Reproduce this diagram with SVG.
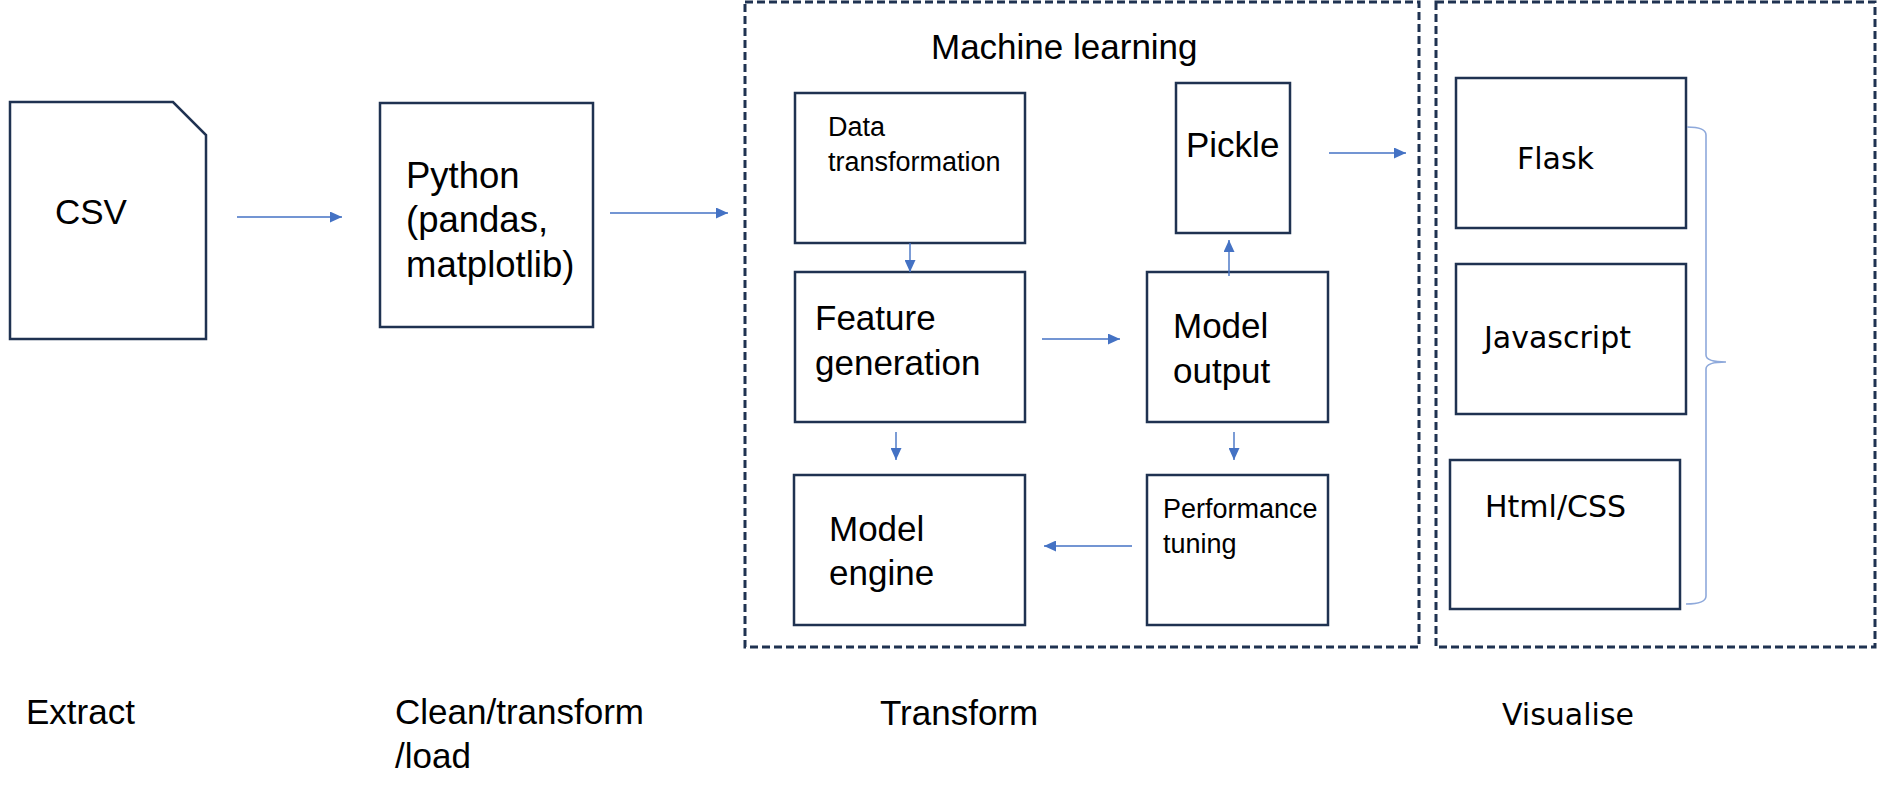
<svg xmlns="http://www.w3.org/2000/svg" width="1877" height="803" viewBox="0 0 1877 803">
<defs>
<style>
.box{fill:#fff;stroke:#1F3251;stroke-width:2.5}
.grp{fill:none;stroke:#1F3251;stroke-width:3;stroke-dasharray:8 4}
.con{fill:none;stroke:#4472C4;stroke-width:1.4;marker-end:url(#ah)}
.t{font-family:"Liberation Sans",Arial,sans-serif;font-size:35px;fill:#000}
.p{font-family:"Liberation Sans",Arial,sans-serif;font-size:36.5px;fill:#000}
.s{font-family:"Liberation Sans",Arial,sans-serif;font-size:27px;fill:#000}
.w{font-family:"DejaVu Sans",Verdana,sans-serif;font-size:30px;fill:#000}
</style>
<marker id="ah" markerUnits="userSpaceOnUse" markerWidth="12" markerHeight="11" refX="12" refY="5.5" orient="auto">
<path d="M0,0 L12,5.5 L0,11 Z" fill="#4472C4"/>
</marker>
</defs>
<rect width="1877" height="803" fill="#fff"/>
<g id="group-ml"><rect class="grp" x="745" y="2" width="674" height="645"/><text class="t" x="931" y="59">Machine learning</text></g>
<g id="group-vis"><rect class="grp" x="1436" y="2" width="439" height="645"/></g>
<g id="csv"><path class="box" d="M10,102 L173,102 L206,135 L206,339 L10,339 Z"/><text class="t" x="55" y="224">CSV</text></g>
<g id="python"><rect class="box" x="380" y="103" width="213" height="224"/><text class="p" x="406" y="188">Python</text><text class="p" x="406" y="232">(pandas,</text><text class="p" x="406" y="277">matplotlib)</text></g>
<g id="data-transformation"><rect class="box" x="795" y="93" width="230" height="150"/><text class="s" x="828" y="136">Data</text><text class="s" x="828" y="171">transformation</text></g>
<g id="feature-generation"><rect class="box" x="795" y="272" width="230" height="150"/><text class="t" x="815" y="330">Feature</text><text class="t" x="815" y="375">generation</text></g>
<g id="model-output"><rect class="box" x="1147" y="272" width="181" height="150"/><text class="t" x="1173" y="338">Model</text><text class="t" x="1173" y="383">output</text></g>
<g id="pickle"><rect class="box" x="1176" y="83" width="114" height="150"/><text class="t" x="1186" y="157">Pickle</text></g>
<g id="model-engine"><rect class="box" x="794" y="475" width="231" height="150"/><text class="t" x="829" y="541">Model</text><text class="t" x="829" y="585">engine</text></g>
<g id="performance-tuning"><rect class="box" x="1147" y="475" width="181" height="150"/><text class="s" x="1163" y="518">Performance</text><text class="s" x="1163" y="553">tuning</text></g>
<g id="flask"><rect class="box" x="1456" y="78" width="230" height="150"/><text class="w" x="1517" y="169">Flask</text></g>
<g id="javascript"><rect class="box" x="1456" y="264" width="230" height="150"/><text class="w" x="1484" y="348">Javascript</text></g>
<g id="html-css"><rect class="box" x="1450" y="460" width="230" height="149"/><text class="w" x="1485" y="517">Html/CSS</text></g>
<g id="connectors">
<line class="con" x1="237" y1="217" x2="342" y2="217"/>
<line class="con" x1="610" y1="213" x2="728" y2="213"/>
<line class="con" x1="910" y1="243" x2="910" y2="272"/>
<line class="con" x1="1042" y1="339" x2="1120" y2="339"/>
<line class="con" x1="1229" y1="276" x2="1229" y2="240"/>
<line class="con" x1="1329" y1="153" x2="1406" y2="153"/>
<line class="con" x1="896" y1="432" x2="896" y2="460"/>
<line class="con" x1="1234" y1="432" x2="1234" y2="460"/>
<line class="con" x1="1132" y1="546" x2="1044" y2="546"/>
<path d="M1687,127 Q1706,127 1706,135 L1706,355 Q1706,362 1726,362 Q1706,362 1706,369 L1706,596 Q1706,604 1686,604" fill="none" stroke="#8EA9DB" stroke-width="1.6"/>
</g>
<g id="labels">
<text class="t" x="26" y="724">Extract</text>
<text class="t" x="395" y="724">Clean/transform</text>
<text class="t" x="395" y="768">/load</text>
<text class="t" x="880" y="725">Transform</text>
<text class="w" x="1502" y="725">Visualise</text>
</g>
</svg>
